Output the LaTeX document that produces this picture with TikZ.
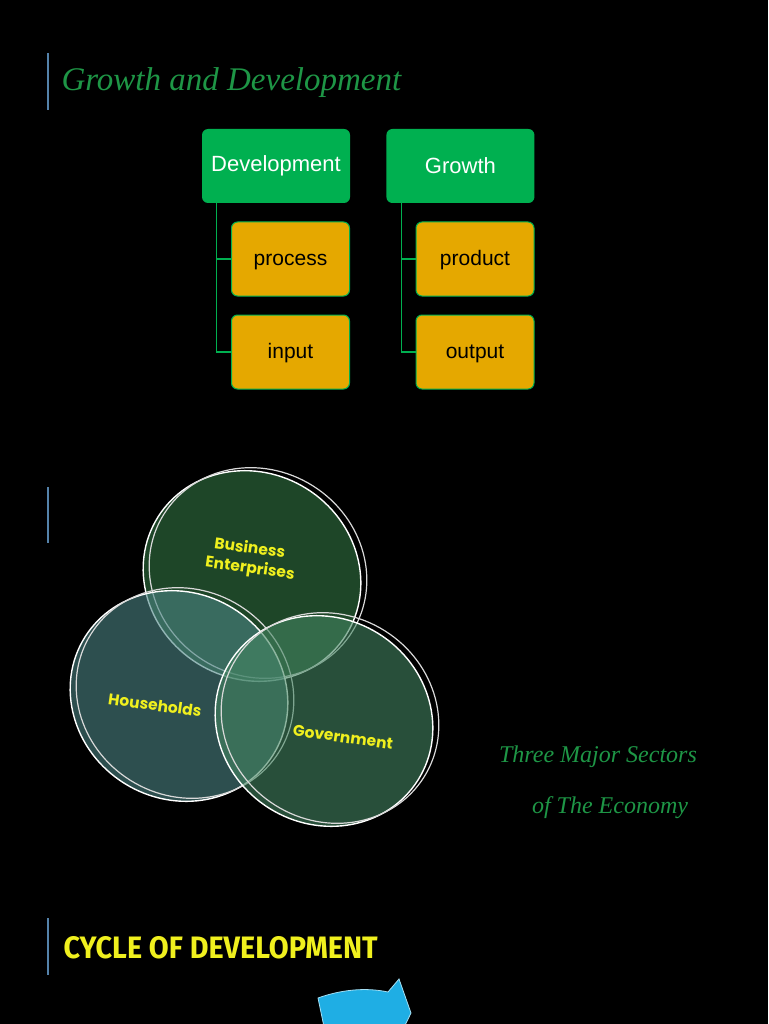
\documentclass[tikz,border=0pt]{standalone}
\usepackage{fontspec}
\setmainfont{Liberation Sans}
\newfontfamily\handfont{Liberation Serif}
\newfontfamily\vennfont{Poppins}
\newfontfamily\headfont[FakeStretch=0.93]{Fira Sans}
\usetikzlibrary{positioning, shapes.geometric}
\definecolor{boxgreen}{RGB}{0,176,80}
\definecolor{boxgold}{RGB}{229,168,0}
\definecolor{barblue}{RGB}{84,130,170}
\definecolor{handgreen}{RGB}{30,150,70}
\definecolor{labelyellow}{RGB}{240,240,30}
\definecolor{bizgreen}{RGB}{50,117,67}
\definecolor{housteal}{RGB}{75,133,133}
\definecolor{govgreen}{RGB}{67,133,97}
\definecolor{arrowcyan}{RGB}{31,174,228}

\begin{document}
\begin{tikzpicture}[
    x=1pt, y=-1pt,
    head/.style={fill=boxgreen,rounded corners=6pt,minimum width=148pt,
                 minimum height=74pt,text=white,font=\fontsize{22}{24}\selectfont},
    leaf/.style={fill=boxgold,draw=boxgreen,line width=1pt,rounded corners=6pt,
                 minimum width=118pt,minimum height=74pt,text=black,
                 text height=15pt,text depth=3pt,
                 font=\fontsize{21}{23}\selectfont},
    tree/.style={draw=boxgreen,line width=1.2pt},
    bar/.style={barblue,line width=1.6pt},
    sector/.style={ellipse,draw=white,line width=1.4pt,fill opacity=0.6,
                   minimum width=222pt,minimum height=206pt,rotate=-32},
    rim/.style={ellipse,draw=white!85!black,line width=1.2pt,
                minimum width=222pt,minimum height=206pt,rotate=-32},
    seclbl/.style={text=labelyellow,font=\vennfont\bfseries\fontsize{15.5}{19}\selectfont,
                   inner sep=0pt,rotate=-8},
    hand/.style={text=handgreen,font=\handfont\itshape}
]
  % page
  \fill[black] (0,0) rectangle (768,1024);

  % Growth and Development
  \draw[bar] (48,53) -- (48,110);
  \node[hand,anchor=west,font=\handfont\itshape\fontsize{33}{36}\selectfont] (title) at (58,83) {Growth and Development};

  \node[head] (dev) at (276,166) {Development};
  \node[head,right=36pt of dev] (grow) {Growth};
  \node[leaf] (proc) at (290.5,259) {process};
  \node[leaf,below=18pt of proc] (inp) {input};
  \node[leaf] (prod) at (475,259) {product};
  \node[leaf,below=18pt of prod] (outp) {output};

  \draw[tree] ([xshift=15pt]dev.south west) |- (proc.west);
  \draw[tree] ([xshift=15pt]dev.south west) |- (inp.west);
  \draw[tree] ([xshift=15pt]grow.south west) |- (prod.west);
  \draw[tree] ([xshift=15pt]grow.south west) |- (outp.west);

  % Sectors
  \draw[bar] (48,487) -- (48,543);
  \node[sector,fill=bizgreen] (biz) at (252,576) {};
  \node[rim] (bizrim) at (258,573) {};
  \node[sector,fill=housteal] (hous) at (179,696) {};
  \node[rim] (housrim) at (185,693) {};
  \node[sector,fill=govgreen] (gov) at (324,721) {};
  \node[rim] (govrim) at (330,718) {};

  \node[seclbl] (bizlbl) at (250,547) {Business};
  \node[seclbl] (entlbl) at (250,569) {Enterprises};
  \node[seclbl] (houslbl) at (155,705) {Households};
  \node[seclbl] (govlbl) at (343,737) {Government};

  \node[hand,font=\handfont\itshape\fontsize{24}{28}\selectfont] (sect1) at (598,757) {Three Major Sectors};
  \node[hand,font=\handfont\itshape\fontsize{24}{28}\selectfont] (sect2) at (610,808) {of The Economy};

  % Cycle
  \draw[bar] (48,918) -- (48,975);
  \node[anchor=west,text=labelyellow,font=\headfont\bfseries\fontsize{31}{33}\selectfont] (cycle) at (60,948) {CYCLE OF DEVELOPMENT};

  \begin{scope}
    \clip (0,0) rectangle (768,1024);
    \filldraw[fill=arrowcyan,draw=white!60!arrowcyan,line width=0.8pt]
      (318,998) .. controls (340,990) and (365,987) .. (388,992)
      -- (399,979) -- (411,1013) -- (393,1050) -- (391,1036)
      .. controls (370,1031) and (345,1035) .. (328,1046) -- cycle;
  \end{scope}
\end{tikzpicture}
\end{document}
